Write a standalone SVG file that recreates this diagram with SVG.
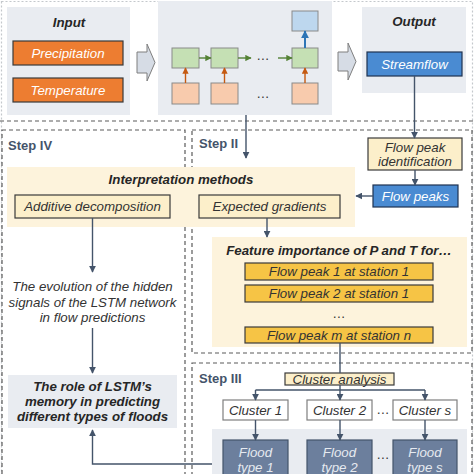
<svg xmlns="http://www.w3.org/2000/svg" width="474" height="474" viewBox="0 0 474 474">
<defs>
<style>
text{font-family:"Liberation Sans",Arial,sans-serif;font-size:13.3px;fill:#333;}
.it{font-style:italic;}
.bi{font-style:italic;font-weight:bold;fill:#262626;}
.step{font-weight:bold;fill:#44546a;font-size:13px;}
.wt{fill:#fff;font-style:italic;}
.ft{fill:#e6eaf0;font-style:italic;}
.dash{fill:none;stroke:#5a5a5a;stroke-width:1.2;stroke-dasharray:4 3;}
.dot{fill:none;stroke:#c4c8cc;stroke-width:1.2;stroke-dasharray:2 2;}
.pan{fill:#e9ecf1;}
.ybg{fill:#fdf3dc;}
.ybox{fill:#fcefca;stroke:#3a3a3a;stroke-width:1.2;}
.gold{fill:#f6c445;stroke:#3a3a3a;stroke-width:1.2;}
.orange{fill:#ed7d31;stroke:#3a3a3a;stroke-width:1.2;}
.blue{fill:#4a8bd2;stroke:#1f3350;stroke-width:1.2;}
.white{fill:#fff;stroke:#7f7f7f;stroke-width:1.2;}
.slate{fill:#6c7f9d;stroke:#44546a;stroke-width:1.2;}
.gbox{fill:#c5e0b4;stroke:#8a8a8a;stroke-width:1;}
.obox{fill:#f8cbad;stroke:#8a8a8a;stroke-width:1;}
.bbox{fill:#bdd7ee;stroke:#8a8a8a;stroke-width:1;}
.blk{fill:#d6dce5;stroke:#7f7f7f;stroke-width:1;}
.con{fill:none;stroke:#44546a;stroke-width:1.4;}
.ar{marker-end:url(#ah);}
</style>
<marker id="ah" viewBox="0 0 10 10" refX="9" refY="5" markerWidth="5" markerHeight="5" orient="auto" markerUnits="strokeWidth"><path d="M0,0 L10,5 L0,10 z" fill="#44546a"/></marker>
<marker id="ahg" viewBox="0 0 10 10" refX="9" refY="5" markerWidth="4.5" markerHeight="4.5" orient="auto" markerUnits="strokeWidth"><path d="M0,0 L10,5 L0,10 z" fill="#548235"/></marker>
<marker id="aho" viewBox="0 0 10 10" refX="9" refY="5" markerWidth="4.5" markerHeight="4.5" orient="auto" markerUnits="strokeWidth"><path d="M0,0 L10,5 L0,10 z" fill="#c55a11"/></marker>
<marker id="ahb" viewBox="0 0 10 10" refX="9" refY="5" markerWidth="4" markerHeight="4" orient="auto" markerUnits="strokeWidth"><path d="M0,0 L10,5 L0,10 z" fill="#2e75b6"/></marker>
</defs>
<rect width="474" height="474" fill="#fff"/>

<!-- frames -->
<g id="frames">
<rect class="dot" x="1.5" y="1.5" width="471" height="480"/>
<line x1="0" y1="121" x2="474" y2="121" class="dash" stroke="#8a8a8a"/>
<rect class="dash" x="2" y="130" width="183" height="360"/>
<rect class="dash" x="192" y="130" width="280" height="223"/>
<rect class="dash" x="192" y="363" width="280" height="130"/>
<text class="step" x="8" y="150">Step IV</text>
<text class="step" x="199" y="148">Step II</text>
<text class="step" x="199" y="383">Step III</text>
</g>

<!-- top: input -->
<g id="input">
<rect class="pan" x="7" y="7" width="123" height="108"/>
<text class="bi" x="69" y="27" text-anchor="middle">Input</text>
<rect class="orange" x="13" y="41" width="110" height="24"/>
<text class="wt" x="68" y="58" text-anchor="middle">Precipitation</text>
<rect class="orange" x="13" y="78" width="110" height="24"/>
<text class="wt" x="68" y="95" text-anchor="middle">Temperature</text>
</g>
<g id="blockarrow1"><polygon class="blk" points="137,52 147,52 147,44 155,62.5 147,81 147,73 137,73"/></g>

<!-- LSTM -->
<g id="lstm">
<rect class="pan" x="158" y="1" width="174" height="114"/>
<rect class="gbox" x="172" y="48" width="27" height="20"/>
<rect class="gbox" x="211" y="48" width="27" height="20"/>
<rect class="gbox" x="292" y="48" width="26" height="20"/>
<rect class="obox" x="172" y="83" width="27" height="21"/>
<rect class="obox" x="211" y="83" width="27" height="21"/>
<rect class="obox" x="292" y="83" width="26" height="21"/>
<rect class="bbox" x="292" y="11" width="26" height="20"/>
<g fill="none" stroke-width="1.4">
<line x1="199" y1="58" x2="211" y2="58" stroke="#548235" marker-end="url(#ahg)"/>
<line x1="238" y1="58" x2="251" y2="58" stroke="#548235" marker-end="url(#ahg)"/>
<line x1="278" y1="58" x2="292" y2="58" stroke="#548235" marker-end="url(#ahg)"/>
<line x1="185.5" y1="83" x2="185.5" y2="68" stroke="#c55a11" marker-end="url(#aho)"/>
<line x1="224.5" y1="83" x2="224.5" y2="68" stroke="#c55a11" marker-end="url(#aho)"/>
<line x1="305" y1="83" x2="305" y2="68" stroke="#c55a11" marker-end="url(#aho)"/>
<line x1="305" y1="48" x2="305" y2="31" stroke="#2e75b6" stroke-width="2" marker-end="url(#ahb)"/>
</g>
<text x="263" y="60" text-anchor="middle" fill="#555">…</text>
<text x="263" y="98" text-anchor="middle" fill="#555">…</text>
</g>
<g id="blockarrow2"><polygon class="blk" points="338,52 348,52 348,43 356,61.5 348,80 348,71 338,71"/></g>

<!-- output -->
<g id="output">
<rect class="pan" x="362" y="7" width="104" height="86"/>
<text class="bi" x="414" y="26" text-anchor="middle">Output</text>
<rect class="blue" x="367" y="52" width="95" height="24"/>
<text class="wt" x="414.5" y="69" text-anchor="middle">Streamflow</text>
</g>

<!-- Step II -->
<g id="interpretation">
<rect class="ybg" x="7" y="167" width="348" height="60"/>
<text class="bi" x="181" y="184" text-anchor="middle">Interpretation methods</text>
</g>
<g id="additive">
<rect class="ybox" x="15" y="195" width="155" height="23"/>
<text class="it" x="92.5" y="211" text-anchor="middle">Additive decomposition</text>
</g>
<g id="expected">
<rect class="ybox" x="199" y="195" width="141" height="23"/>
<text class="it" x="269.5" y="211" text-anchor="middle">Expected gradients</text>
</g>
<g id="flowpeakid">
<rect class="ybox" x="368" y="138" width="94" height="32"/>
<text class="it" x="415" y="152" text-anchor="middle">Flow peak</text>
<text class="it" x="415" y="166" text-anchor="middle">identification</text>
</g>
<g id="flowpeaks">
<rect class="blue" x="373" y="185" width="85" height="22"/>
<text class="wt" x="415.5" y="201" text-anchor="middle">Flow peaks</text>
</g>
<g id="featureimportance">
<rect class="ybg" x="212" y="237" width="255" height="110"/>
<text class="bi" x="339" y="255" text-anchor="middle">Feature importance of P and T for…</text>
<rect class="gold" x="245" y="263" width="188" height="17"/>
<text class="it" x="339" y="276" text-anchor="middle">Flow peak 1 at station 1</text>
<rect class="gold" x="245" y="285" width="188" height="17"/>
<text class="it" x="339" y="298" text-anchor="middle">Flow peak 2 at station 1</text>
<text x="339" y="318" text-anchor="middle" fill="#555">…</text>
<rect class="gold" x="245" y="327" width="188" height="16"/>
<text class="it" x="339" y="340" text-anchor="middle">Flow peak m at station n</text>
</g>

<!-- Step III -->
<g id="clusteranalysis">
<rect class="ybox" x="285" y="373" width="109" height="12"/>
<text class="it" x="339.5" y="383.5" text-anchor="middle">Cluster analysis</text>
</g>
<g id="clusters">
<rect class="white" x="223" y="400" width="65" height="20"/>
<text class="it" x="255.5" y="415" text-anchor="middle">Cluster 1</text>
<rect class="white" x="307" y="400" width="65" height="20"/>
<text class="it" x="339.5" y="415" text-anchor="middle">Cluster 2</text>
<rect class="white" x="393" y="400" width="64" height="20"/>
<text class="it" x="425" y="415" text-anchor="middle">Cluster s</text>
<text x="383" y="414" text-anchor="middle" fill="#555">…</text>
</g>
<g id="floodtypes">
<rect class="pan" x="212" y="429" width="255" height="50"/>
<rect class="slate" x="223" y="440" width="65" height="40"/>
<text class="ft" x="255.5" y="457" text-anchor="middle">Flood</text>
<text class="ft" x="255.5" y="472" text-anchor="middle">type 1</text>
<rect class="slate" x="307" y="440" width="65" height="40"/>
<text class="ft" x="339.5" y="457" text-anchor="middle">Flood</text>
<text class="ft" x="339.5" y="472" text-anchor="middle">type 2</text>
<rect class="slate" x="393" y="440" width="64" height="40"/>
<text class="ft" x="425" y="457" text-anchor="middle">Flood</text>
<text class="ft" x="425" y="472" text-anchor="middle">type s</text>
<text x="383" y="459" text-anchor="middle" fill="#555">…</text>
</g>

<!-- Step IV -->
<g id="evolution">
<text class="it" x="92.5" y="291" text-anchor="middle">The evolution of the hidden</text>
<text class="it" x="92.5" y="306.5" text-anchor="middle">signals of the LSTM network</text>
<text class="it" x="92.5" y="322" text-anchor="middle">in flow predictions</text>
</g>
<g id="role">
<rect class="pan" x="8" y="375" width="169" height="53"/>
<text class="bi" x="92.5" y="391" text-anchor="middle">The role of LSTM’s</text>
<text class="bi" x="92.5" y="406" text-anchor="middle">memory in predicting</text>
<text class="bi" x="92.5" y="421" text-anchor="middle">different types of floods</text>
</g>

<!-- connectors -->
<g id="connectors">
<line class="con ar" x1="246" y1="115" x2="246" y2="158"/>
<line class="con ar" x1="414.5" y1="76" x2="414.5" y2="138"/>
<line class="con ar" x1="415" y1="170" x2="415" y2="185"/>
<line class="con ar" x1="373" y1="196" x2="356" y2="196"/>
<line class="con ar" x1="267" y1="218" x2="267" y2="237"/>
<line class="con" x1="340" y1="343" x2="340" y2="373"/>
<polyline class="con" points="340,385 340,390"/>
<line class="con" x1="255.5" y1="390" x2="425" y2="390"/>
<line class="con ar" x1="255.5" y1="390" x2="255.5" y2="400"/>
<line class="con ar" x1="340" y1="390" x2="340" y2="400"/>
<line class="con ar" x1="425" y1="390" x2="425" y2="400"/>
<line class="con ar" x1="255.5" y1="420" x2="255.5" y2="440"/>
<line class="con ar" x1="340" y1="420" x2="340" y2="440"/>
<line class="con ar" x1="425" y1="420" x2="425" y2="440"/>
<line class="con ar" x1="92.5" y1="218" x2="92.5" y2="272"/>
<line class="con ar" x1="92.5" y1="328" x2="92.5" y2="373"/>
<polyline class="con ar" points="212,464 92.5,464 92.5,430"/>
</g>
</svg>
